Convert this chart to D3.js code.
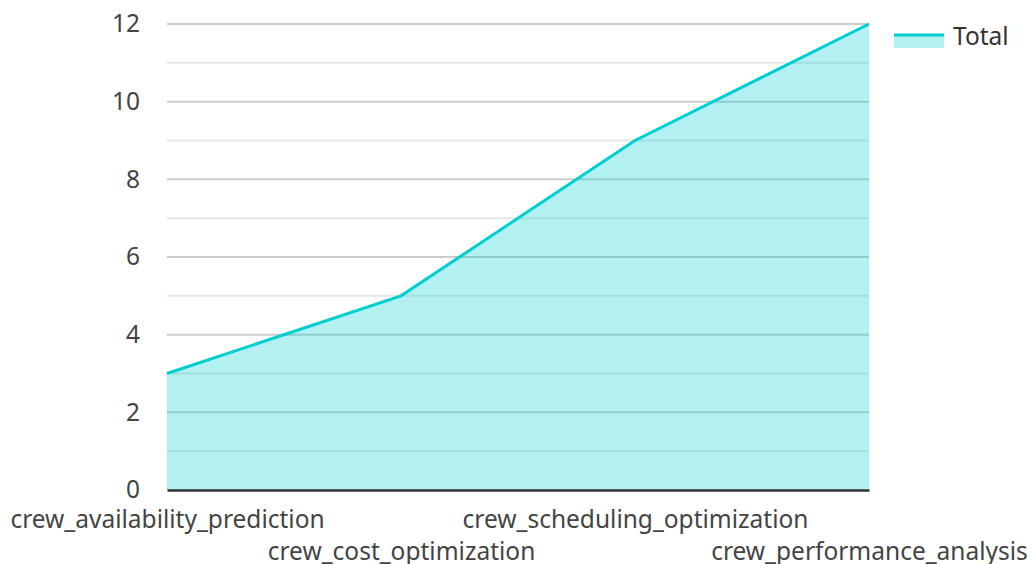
<!DOCTYPE html>
<html><head><meta charset="utf-8">
<script src="https://cdn.jsdelivr.net/npm/d3@7"></script>
<style>
body{margin:0;background:#fff;}
</style></head>
<body><svg id="c" width="1031" height="564"></svg>
<script>
const categories = ["crew_availability_prediction","crew_cost_optimization","crew_scheduling_optimization","crew_performance_analysis"];
const totalValues = [3,5,9,12];
const yTicks = [0,2,4,6,8,10,12];
const seriesName = "Total";

const FONT = "'Noto Sans','Open Sans',sans-serif";
const FS = 24.5;
const svg = d3.select("#c");
const x = d3.scalePoint().domain(categories).range([167,869]);
const y = d3.scaleLinear().domain([0,12]).range([490,24]);
const color = "#00CED1";

// grid
const g = svg.append("g");
d3.range(1,13,1).forEach(v=>{
  g.append("line").attr("x1",167).attr("x2",869).attr("y1",y(v)).attr("y2",y(v))
   .attr("stroke", v%2===0 ? "#cccccc" : "#e6e6e6").attr("stroke-width",2);
});

const data = categories.map((c,i)=>({c, v: totalValues[i]}));
svg.append("path").datum(data)
  .attr("d", d3.area().x(d=>x(d.c)).y0(y(0)).y1(d=>y(d.v)))
  .attr("fill", color).attr("fill-opacity",0.3);
svg.append("path").datum(data)
  .attr("d", d3.line().x(d=>x(d.c)).y(d=>y(d.v)))
  .attr("fill","none").attr("stroke",color).attr("stroke-width",3);

// y axis
const ya = svg.append("g").attr("transform","translate(167,0)")
  .call(d3.axisLeft(y).tickValues(yTicks).tickSize(0).tickPadding(27));
ya.select(".domain").remove();
ya.selectAll("text").attr("font-size",FS).attr("fill","#444").attr("font-family",FONT);

// x axis
const xa = svg.append("g").attr("transform","translate(0,490)")
  .call(d3.axisBottom(x).tickSize(0).tickPadding(0));
xa.select(".domain").attr("stroke","#333").attr("stroke-width",2.5);
xa.selectAll("text").attr("font-size",FS).attr("fill","#444")
  .attr("font-family",FONT)
  .attr("y",(d,i)=> i%2===0 ? 29 : 61).attr("dy","0.35em");

// legend
const lg = svg.append("g");
lg.append("rect").attr("x",894).attr("y",35).attr("width",50).attr("height",13).attr("fill",color).attr("fill-opacity",0.3);
lg.append("line").attr("x1",894).attr("x2",944).attr("y1",35).attr("y2",35).attr("stroke",color).attr("stroke-width",3);
lg.append("text").attr("x",953).attr("y",36).attr("dy","0.35em").attr("font-size",FS).attr("fill","#333").attr("font-family",FONT).text(seriesName);
</script></body></html>
